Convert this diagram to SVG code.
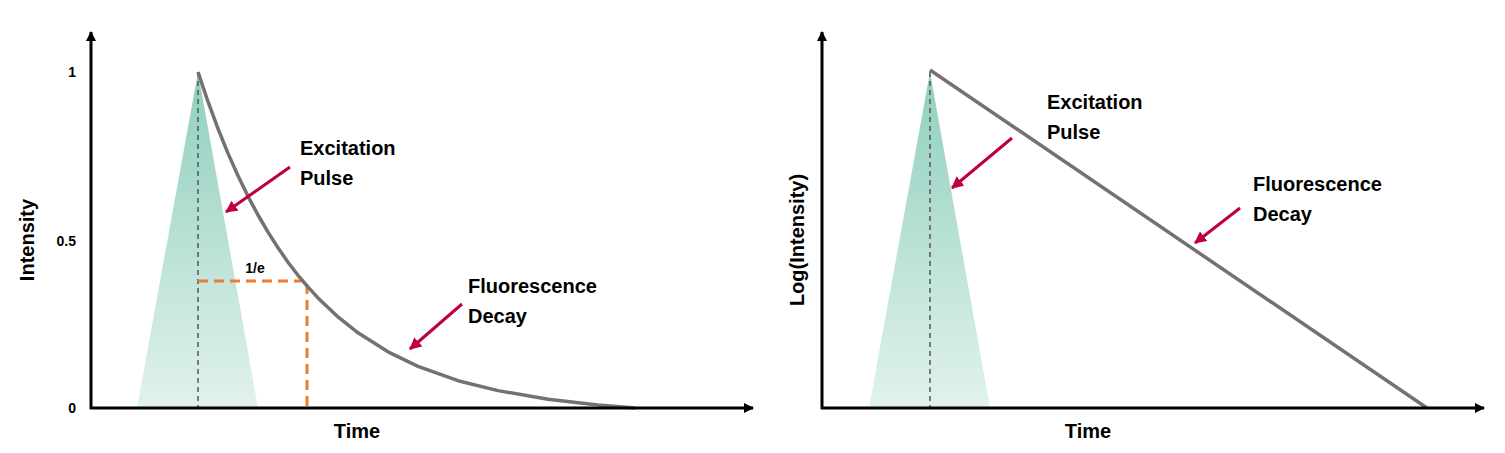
<svg xmlns="http://www.w3.org/2000/svg" width="1505" height="453" viewBox="0 0 1505 453">
<defs>
<linearGradient id="g" x1="0" y1="0" x2="0" y2="1"><stop offset="0" stop-color="#8fcfbd"/><stop offset="1" stop-color="#e2f2ee"/></linearGradient>
<marker id="ax" markerWidth="10" markerHeight="10" refX="9" refY="5" orient="auto" markerUnits="userSpaceOnUse"><path d="M0,0 L10,5 L0,10 Z" fill="#000"/></marker>
<marker id="ra" markerWidth="12" markerHeight="12" refX="11" refY="6" orient="auto" markerUnits="userSpaceOnUse"><path d="M0,0 L12,6 L0,12 Z" fill="#c0003c"/></marker>
</defs>
<style>
text{font-family:"Liberation Sans",Arial,sans-serif;font-weight:bold;fill:#000}
.lbl{font-size:20px}
.tick{font-size:14px}
.axis{stroke:#000;stroke-width:3;fill:none}
.curve{stroke:#767171;stroke-width:3.5;fill:none;stroke-linejoin:round}
.dash{stroke:#555;stroke-width:1.5;stroke-dasharray:5,4}
.or{stroke:#ed7d31;stroke-width:3;stroke-dasharray:10,6;fill:none}
.red{stroke:#c0003c;stroke-width:3;marker-end:url(#ra)}
</style>
<g id="left-chart">
<polygon points="198,72 137,408 258,408" fill="url(#g)"/>
<line class="dash" x1="198" y1="72" x2="198" y2="408"/>
<polyline class="or" points="198,281 307,281 307,408"/>
<polyline class="curve" points="198,72 208,101.7 218,128.7 228,153.4 238,175.7 248,196.3 258,215 268,232.1 278,247.8 288,262.2 298,275.3 307,285.9 318,297.9 338,316.9 358,332.8 388,351.8 418,366.3 458,380.7 498,390.6 548,399.2 598,404.9 635,407.9"/>
<line class="axis" x1="91" y1="409" x2="91" y2="32" marker-end="url(#ax)"/>
<line class="axis" x1="90" y1="408" x2="753" y2="408" marker-end="url(#ax)"/>
<text class="tick" x="76" y="77" text-anchor="end">1</text>
<text class="tick" x="76" y="246" text-anchor="end">0.5</text>
<text class="tick" x="76" y="413" text-anchor="end">0</text>
<text class="tick" x="255" y="273" text-anchor="middle">1/e</text>
<text class="lbl" transform="translate(34,240) rotate(-90)" text-anchor="middle">Intensity</text>
<text class="lbl" x="357" y="438" text-anchor="middle">Time</text>
<text class="lbl" x="300" y="155">Excitation</text>
<text class="lbl" x="300" y="185">Pulse</text>
<text class="lbl" x="468" y="293">Fluorescence</text>
<text class="lbl" x="468" y="323">Decay</text>
</g>
<g id="right-chart">
<polygon points="930,72 869,408 990,408" fill="url(#g)"/>
<line class="dash" x1="930" y1="72" x2="930" y2="408"/>
<line class="curve" x1="930" y1="70" x2="1427" y2="408"/>
<line class="axis" x1="822" y1="409" x2="822" y2="32" marker-end="url(#ax)"/>
<line class="axis" x1="821" y1="408" x2="1484" y2="408" marker-end="url(#ax)"/>
<text class="lbl" transform="translate(804,240) rotate(-90)" text-anchor="middle">Log(Intensity)</text>
<text class="lbl" x="1088" y="438" text-anchor="middle">Time</text>
<text class="lbl" x="1047" y="109">Excitation</text>
<text class="lbl" x="1047" y="139">Pulse</text>
<text class="lbl" x="1253" y="191">Fluorescence</text>
<text class="lbl" x="1253" y="221">Decay</text>
</g>
<g id="connectors">
<line class="red" x1="290" y1="167" x2="226" y2="212"/>
<line class="red" x1="462" y1="304" x2="410" y2="349"/>
<line class="red" x1="1012" y1="138" x2="952" y2="188"/>
<line class="red" x1="1240" y1="208" x2="1195" y2="243"/>
</g>
</svg>
